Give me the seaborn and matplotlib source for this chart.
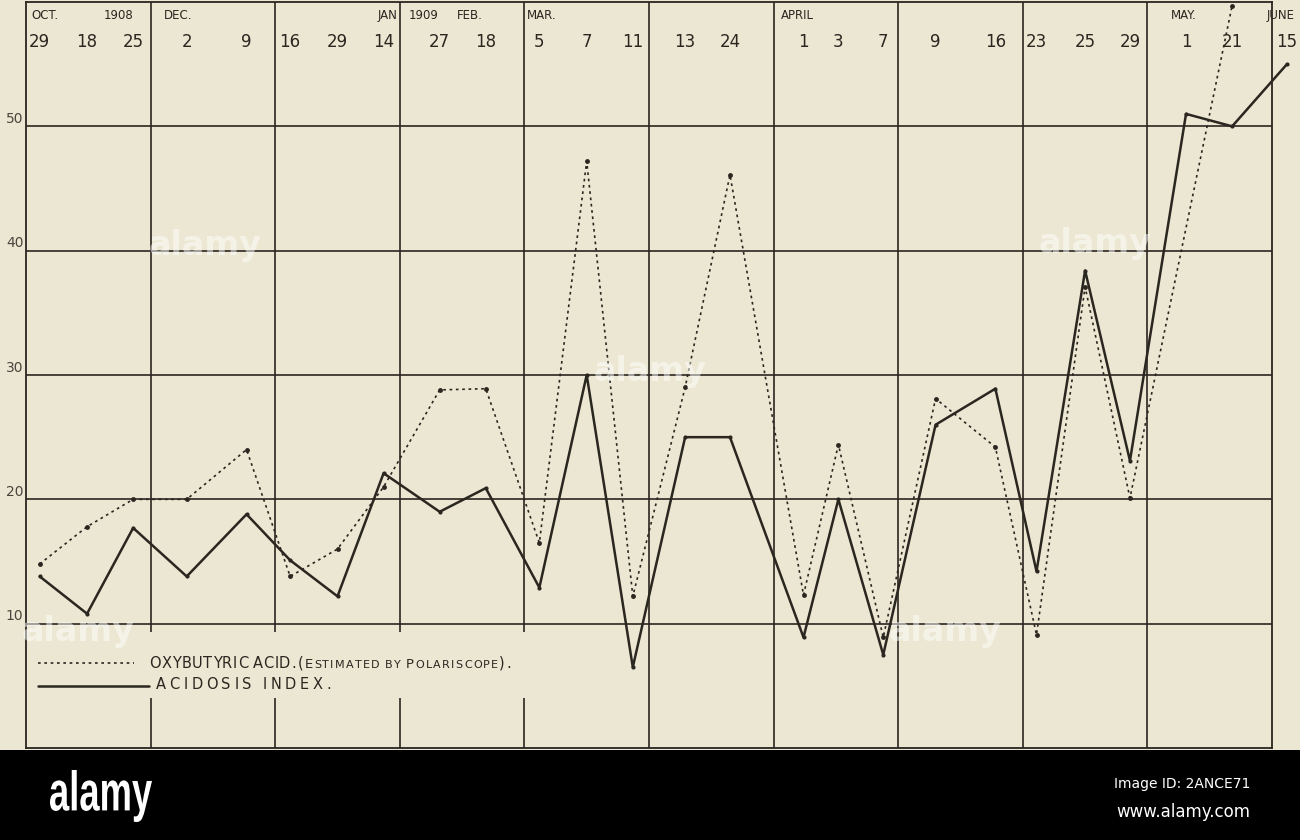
import numpy as np
import pandas as pd
import matplotlib
matplotlib.use("Agg")
import matplotlib.pyplot as plt
import matplotlib.transforms as mtransforms
from matplotlib.patches import Rectangle, PathPatch
from matplotlib.textpath import TextPath
from matplotlib.font_manager import FontProperties
import seaborn as sns

# Dates across the top. Position is on the hand-ruled x scale (1 unit = 1 grid column)
days = ["29", "18", "25", "2", "9", "16", "29", "14", "27", "18", "5", "7", "11",
        "13", "24", "1", "3", "7", "9", "16", "23", "25", "29", "1", "21", "15"]
day_pos = [0.11, 0.49, 0.86, 1.29, 1.77, 2.12, 2.50, 2.87, 3.32, 3.69, 4.12, 4.50, 4.87,
           5.29, 5.65, 6.24, 6.52, 6.88, 7.30, 7.78, 8.11, 8.50, 8.86, 9.31, 9.68, 10.12]

# Series values
acidosis = [13.8, 10.8, 17.7, 13.8, 18.8, 15.1, 12.2, 22.1, 19.0, 20.9, 12.9, 30.0, 6.5,
            25.0, 25.0, 8.9, 20.0, 7.5, 26.0, 28.9, 14.2, 38.4, 23.1, 51.0, 50.0, 55.0]
oxybutyric = [14.8, 17.8, 20.0, 20.0, 24.0, 13.8, 16.0, 21.0, 28.8, 28.9, 16.5, 47.2, 12.2,
              29.0, 46.1, 12.3, 24.4, 8.9, 28.1, 24.2, 9.1, 37.1, 20.1, np.nan, 59.7, np.nan]

months = ["OCT.", "1908", "DEC.", "JAN", "1909", "FEB.", "MAR.", "APRIL", "MAY.", "JUNE"]
month_pos = [0.15, 0.74, 1.22, 2.90, 3.19, 3.56, 4.14, 6.19, 9.29, 10.07]

y_ticks = [10, 20, 30, 40, 50]

df = pd.DataFrame({"pos": day_pos, "day": days,
                   "acidosis": acidosis, "oxybutyric": oxybutyric})

paper = "#ece7d2"
ink = "#2a2620"
W, H = 1300, 840

sns.set_theme(style="white")
plt.rcParams["font.family"] = ["DejaVu Sans"]

fig = plt.figure(figsize=(13, 8.4), dpi=100, facecolor=paper)
ax = fig.add_axes([26 / W, 92 / H, 1246 / W, 746 / H])
ax.set_facecolor(paper)

# ruled grid
ax.set_xlim(0, 10)
ax.set_ylim(0, 60)
for c in range(1, 10):
    ax.axvline(c, color=ink, lw=1.2, zorder=1)
for v in y_ticks:
    ax.axhline(v, color=ink, lw=1.2, zorder=1)
for s in ax.spines.values():
    s.set_color(ink)
    s.set_linewidth(1.3)
ax.set_xticks([])
ax.set_yticks([])

# the key is pasted over the ruling
ax.add_patch(Rectangle((0.09, 4.0), 4.0, 5.3, facecolor=paper, edgecolor="none", zorder=2))

# the two curves
oxy = df.dropna(subset=["oxybutyric"])
sns.lineplot(data=oxy, x="pos", y="oxybutyric", sort=False, ax=ax, color=ink,
             lw=1.2, linestyle=(0, (1.6, 2.2)), marker="o", markersize=3.5,
             markeredgewidth=0, clip_on=False, zorder=4)
sns.lineplot(data=df, x="pos", y="acidosis", sort=False, ax=ax, color=ink,
             lw=1.8, marker="o", markersize=3, markeredgewidth=0,
             clip_on=False, zorder=5)
ax.set_xlabel("")
ax.set_ylabel("")

# date labels along the top
top = mtransforms.blended_transform_factory(ax.transData, ax.transAxes)
for p, d in zip(day_pos, days):
    ax.text(p, 0.946, d, transform=top, ha="center", va="center",
            fontsize=12, color=ink, clip_on=False, zorder=6)
for p, m in zip(month_pos, months):
    ax.text(p, 0.982, m, transform=top, ha="center", va="center",
            fontsize=8.5, color=ink, clip_on=False, zorder=6)

# value labels at the left
left = mtransforms.blended_transform_factory(ax.transAxes, ax.transData)
for v in y_ticks:
    ax.text(-0.002, v + 0.6, str(v), transform=left, ha="right", va="center",
            fontsize=10, color="#4a453d", clip_on=False)

# key lines
ax.plot([0.10, 0.87], [6.8, 6.8], color=ink, lw=1.2, linestyle=(0, (1.6, 2.2)), zorder=6)
ax.plot([0.10, 0.99], [5.0, 5.0], color=ink, lw=1.8, zorder=6)

renderer = fig.canvas.get_renderer()


def spaced(x_px, y_top_px, pieces, tracking=0.0):
    # letters drawn one by one so the key can have small caps and letter spacing
    for s, size in pieces:
        for ch in s:
            if ch == " ":
                x_px += size * 0.35 + tracking
                continue
            t = fig.text(x_px / W, 1 - y_top_px / H, ch, fontsize=size, color=ink,
                         va="baseline", ha="left", zorder=7)
            x_px += t.get_window_extent(renderer).width + tracking
    return x_px


end = spaced(149, 668, [("OXYBUTYRIC ACID.", 10.5)], tracking=0.6)
spaced(end + 1, 668, [("(", 10.5), ("E", 9.5), ("STIMATED ", 8), ("BY ", 8),
                      ("P", 9.5), ("OLARISCOPE", 8), (").", 10.5)], tracking=1.3)
spaced(156, 689, [("ACIDOSIS INDEX.", 10.5)], tracking=3.6)

# faint stock watermarks
for wx, wy in [(205, 245), (650, 372), (1095, 243), (78, 632), (945, 632)]:
    fig.text(wx / W, 1 - wy / H, "alamy", fontsize=24, fontweight="bold",
             color="white", alpha=0.5, ha="center", va="center", zorder=10)

# black banner at the bottom
fig.add_artist(Rectangle((0, 0), 1, 90 / H, transform=fig.transFigure,
                         facecolor="black", edgecolor="none", zorder=0))
logo = TextPath((0, 0), "alamy", size=50,
                prop=FontProperties(family="Liberation Sans", weight="bold"))
bb = logo.get_extents()
sx = (152 - 50) / bb.width
sy = (822 - 770) / bb.height
fig.add_artist(PathPatch(logo, facecolor="white", edgecolor="none",
                         transform=mtransforms.Affine2D().translate(-bb.x0, -bb.y0)
                         .scale(sx / W, sy / H).translate(50 / W, (H - 822) / H)
                         + fig.transFigure))
fig.text(1250 / W, 56 / H, "Image ID: 2ANCE71", fontsize=10, color="white",
         ha="right", va="center")
fig.text(1250 / W, 28 / H, "www.alamy.com", fontsize=12, color="white",
         ha="right", va="center")

fig.savefig("out.png", dpi=100, facecolor=paper)
